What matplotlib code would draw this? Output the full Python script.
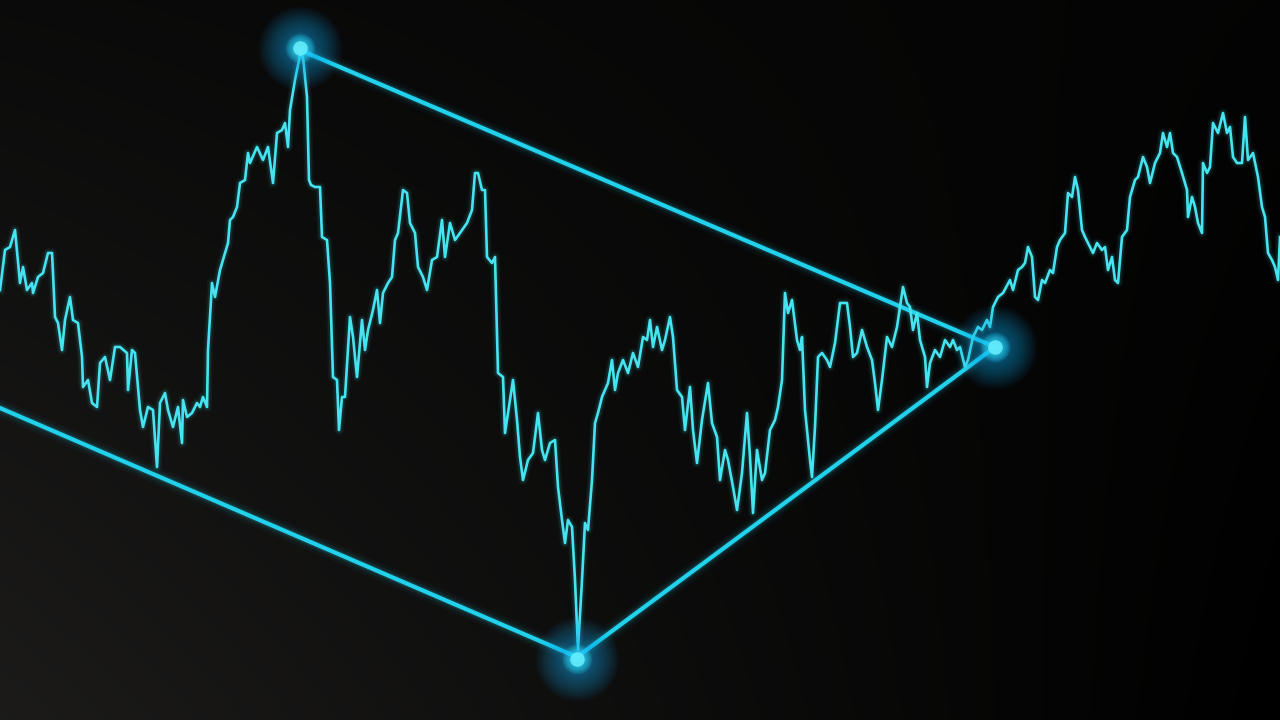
import numpy as np
import matplotlib
matplotlib.use("Agg")
from matplotlib import pyplot as plt

# price trace (x = time step, y = screen level, 0 at top)
t = [0, 5, 10, 15, 20, 23, 27, 32, 33, 38, 43, 48, 52, 53, 55, 58, 62, 65, 70, 73,
     78, 82, 83, 88, 92, 97, 100, 105, 110, 115, 120, 127, 128, 132, 135, 140, 143, 148, 153, 157,
     160, 165, 168, 173, 178, 182, 183, 187, 192, 197, 200, 203, 207, 208, 212, 215, 220, 223, 228, 230,
     233, 237, 240, 245, 248, 250, 257, 263, 268, 273, 277, 282, 285, 288, 290, 295, 300, 303, 307, 309,
     311, 315, 320, 322, 327, 330, 333, 337, 339, 342, 345, 350, 353, 357, 362, 365, 368, 373, 377, 380,
     383, 388, 392, 395, 398, 403, 407, 410, 415, 418, 423, 427, 432, 437, 442, 445, 450, 455, 460, 467,
     472, 475, 478, 482, 485, 487, 492, 495, 498, 503, 505, 510, 513, 517, 520, 523, 528, 533, 538, 542,
     545, 550, 555, 558, 562, 565, 568, 572, 575, 578, 582, 585, 588, 592, 595, 598, 602, 608, 612, 615,
     618, 623, 628, 633, 638, 643, 647, 650, 653, 657, 662, 665, 670, 673, 677, 682, 685, 690, 693, 697,
     702, 708, 712, 717, 720, 725, 728, 733, 737, 742, 747, 750, 753, 757, 762, 765, 770, 775, 778, 782,
     785, 788, 792, 797, 800, 802, 805, 810, 812, 815, 818, 822, 827, 830, 835, 840, 847, 850, 853, 857,
     862, 867, 872, 875, 878, 882, 887, 892, 897, 900, 903, 907, 910, 913, 917, 920, 925, 927, 930, 935,
     940, 945, 950, 953, 957, 960, 965, 968, 973, 978, 982, 987, 990, 993, 998, 1003, 1010, 1013, 1018, 1022,
     1025, 1028, 1032, 1035, 1038, 1042, 1045, 1050, 1053, 1057, 1060, 1065, 1068, 1072, 1075, 1078, 1082, 1085, 1090, 1093,
     1097, 1102, 1105, 1108, 1112, 1115, 1118, 1122, 1127, 1130, 1135, 1138, 1143, 1147, 1150, 1155, 1160, 1163, 1167, 1170,
     1173, 1177, 1182, 1187, 1188, 1192, 1195, 1198, 1202, 1203, 1207, 1210, 1213, 1218, 1223, 1227, 1230, 1233, 1237, 1242,
     1245, 1248, 1253, 1258, 1262, 1265, 1268, 1272, 1275, 1278, 1280]
level = [290, 250, 247, 230, 283, 267, 290, 283, 293, 277, 273, 253, 253, 273, 317, 323, 350, 320, 297, 320,
         323, 357, 387, 380, 403, 407, 363, 357, 380, 347, 347, 353, 390, 350, 353, 410, 427, 407, 410, 467,
         403, 393, 410, 427, 407, 443, 400, 417, 413, 403, 407, 397, 407, 350, 283, 297, 270, 260, 243, 220,
         217, 207, 183, 180, 153, 163, 147, 160, 147, 183, 133, 130, 123, 147, 110, 80, 55, 57, 97, 180,
         185, 187, 187, 237, 240, 283, 377, 380, 430, 397, 397, 317, 337, 377, 320, 350, 330, 310, 290, 323,
         293, 283, 277, 240, 233, 190, 193, 223, 233, 267, 277, 290, 260, 257, 220, 257, 223, 240, 233, 223,
         210, 173, 173, 190, 190, 257, 263, 257, 373, 377, 433, 400, 380, 420, 457, 480, 460, 453, 413, 450,
         460, 443, 440, 487, 520, 543, 520, 527, 580, 650, 580, 523, 530, 480, 423, 413, 397, 383, 360, 390,
         373, 360, 373, 353, 367, 337, 340, 320, 347, 327, 350, 340, 317, 337, 390, 397, 430, 387, 430, 463,
         420, 383, 423, 437, 480, 450, 460, 487, 510, 473, 413, 457, 513, 450, 480, 473, 430, 420, 407, 380,
         293, 313, 300, 340, 350, 337, 410, 460, 477, 427, 357, 353, 360, 367, 343, 303, 303, 327, 357, 353,
         330, 347, 360, 383, 410, 380, 337, 347, 327, 307, 287, 303, 307, 330, 313, 340, 357, 387, 363, 350,
         357, 340, 347, 340, 350, 347, 367, 360, 337, 327, 330, 320, 327, 307, 297, 293, 280, 290, 270, 267,
         263, 247, 257, 297, 300, 280, 283, 270, 273, 247, 240, 233, 193, 197, 177, 190, 230, 237, 247, 253,
         243, 250, 247, 270, 257, 280, 283, 237, 230, 197, 180, 177, 157, 167, 183, 163, 153, 133, 147, 133,
         153, 157, 173, 190, 217, 197, 207, 223, 233, 163, 173, 167, 123, 133, 113, 133, 127, 157, 163, 163,
         117, 160, 153, 177, 207, 217, 253, 260, 267, 280, 237]

# pattern pivots (diamond / triangle drawn over the trace)
pivot_t = [0, 577, 995]
pivot_level = [408, 657, 347]
top_t, top_level = 300, 50

line_color = "#45e4f0"
trend_color = "#22d2ec"

fig = plt.figure(figsize=(12.8, 7.2), dpi=100)
ax = fig.add_axes([0, 0, 1, 1])
ax.set_xlim(0, 1280)
ax.set_ylim(720, 0)
ax.axis("off")

# dark background, slightly lighter toward the bottom-left
u = np.linspace(0, 1, 320)[None, :]
v = np.linspace(0, 1, 180)[:, None]
shade = (1 - u) * (11 + 17 * v) + u * (4 - 4 * v)
shade = np.clip(shade, 0, 255) / 255.0
bg = np.dstack([shade, shade * 0.97, shade * 0.94])
ax.imshow(bg, extent=[0, 1280, 720, 0], aspect="auto", zorder=0, interpolation="bilinear")

# trend lines: lower-left -> bottom pivot -> right apex, and top pivot -> right apex
segs = [
    ([pivot_t[0], pivot_t[1]], [pivot_level[0], pivot_level[1]]),
    ([pivot_t[1], pivot_t[2]], [pivot_level[1], pivot_level[2]]),
    ([top_t, pivot_t[2]], [top_level, pivot_level[2]]),
]
for xs, ys in segs:
    for lw, a in [(12, 0.04), (8, 0.07), (5, 0.14)]:
        ax.plot(xs, ys, color=trend_color, lw=lw, alpha=a, solid_capstyle="round", zorder=2)
    ax.plot(xs, ys, color=trend_color, lw=3.0, zorder=3, solid_capstyle="round")

# price line with soft glow
for lw, a in [(7, 0.05), (4.5, 0.1)]:
    ax.plot(t, level, color=line_color, lw=lw, alpha=a, zorder=4)
ax.plot(t, level, color=line_color, lw=1.9, zorder=5)

# glowing pivot dots: many faint stacked discs give a smooth halo
dots_t = [top_t, pivot_t[1], pivot_t[2]]
dots_level = [top_level - 2, pivot_level[1] + 2, pivot_level[2]]
for r in np.linspace(42, 6, 36):
    ax.scatter(dots_t, dots_level, s=(2 * r) ** 2 * 0.52, color="#12b0ee",
               alpha=0.022, lw=0, zorder=6)
for r in np.linspace(15, 3, 14):
    ax.scatter(dots_t, dots_level, s=(2 * r) ** 2 * 0.52, color="#2ee0ff",
               alpha=0.1, lw=0, zorder=7)
ax.scatter(dots_t, dots_level, s=110, color="#6ef2ff", alpha=0.8, lw=0, zorder=8)

fig.savefig("out.png", dpi=100, facecolor="black")
